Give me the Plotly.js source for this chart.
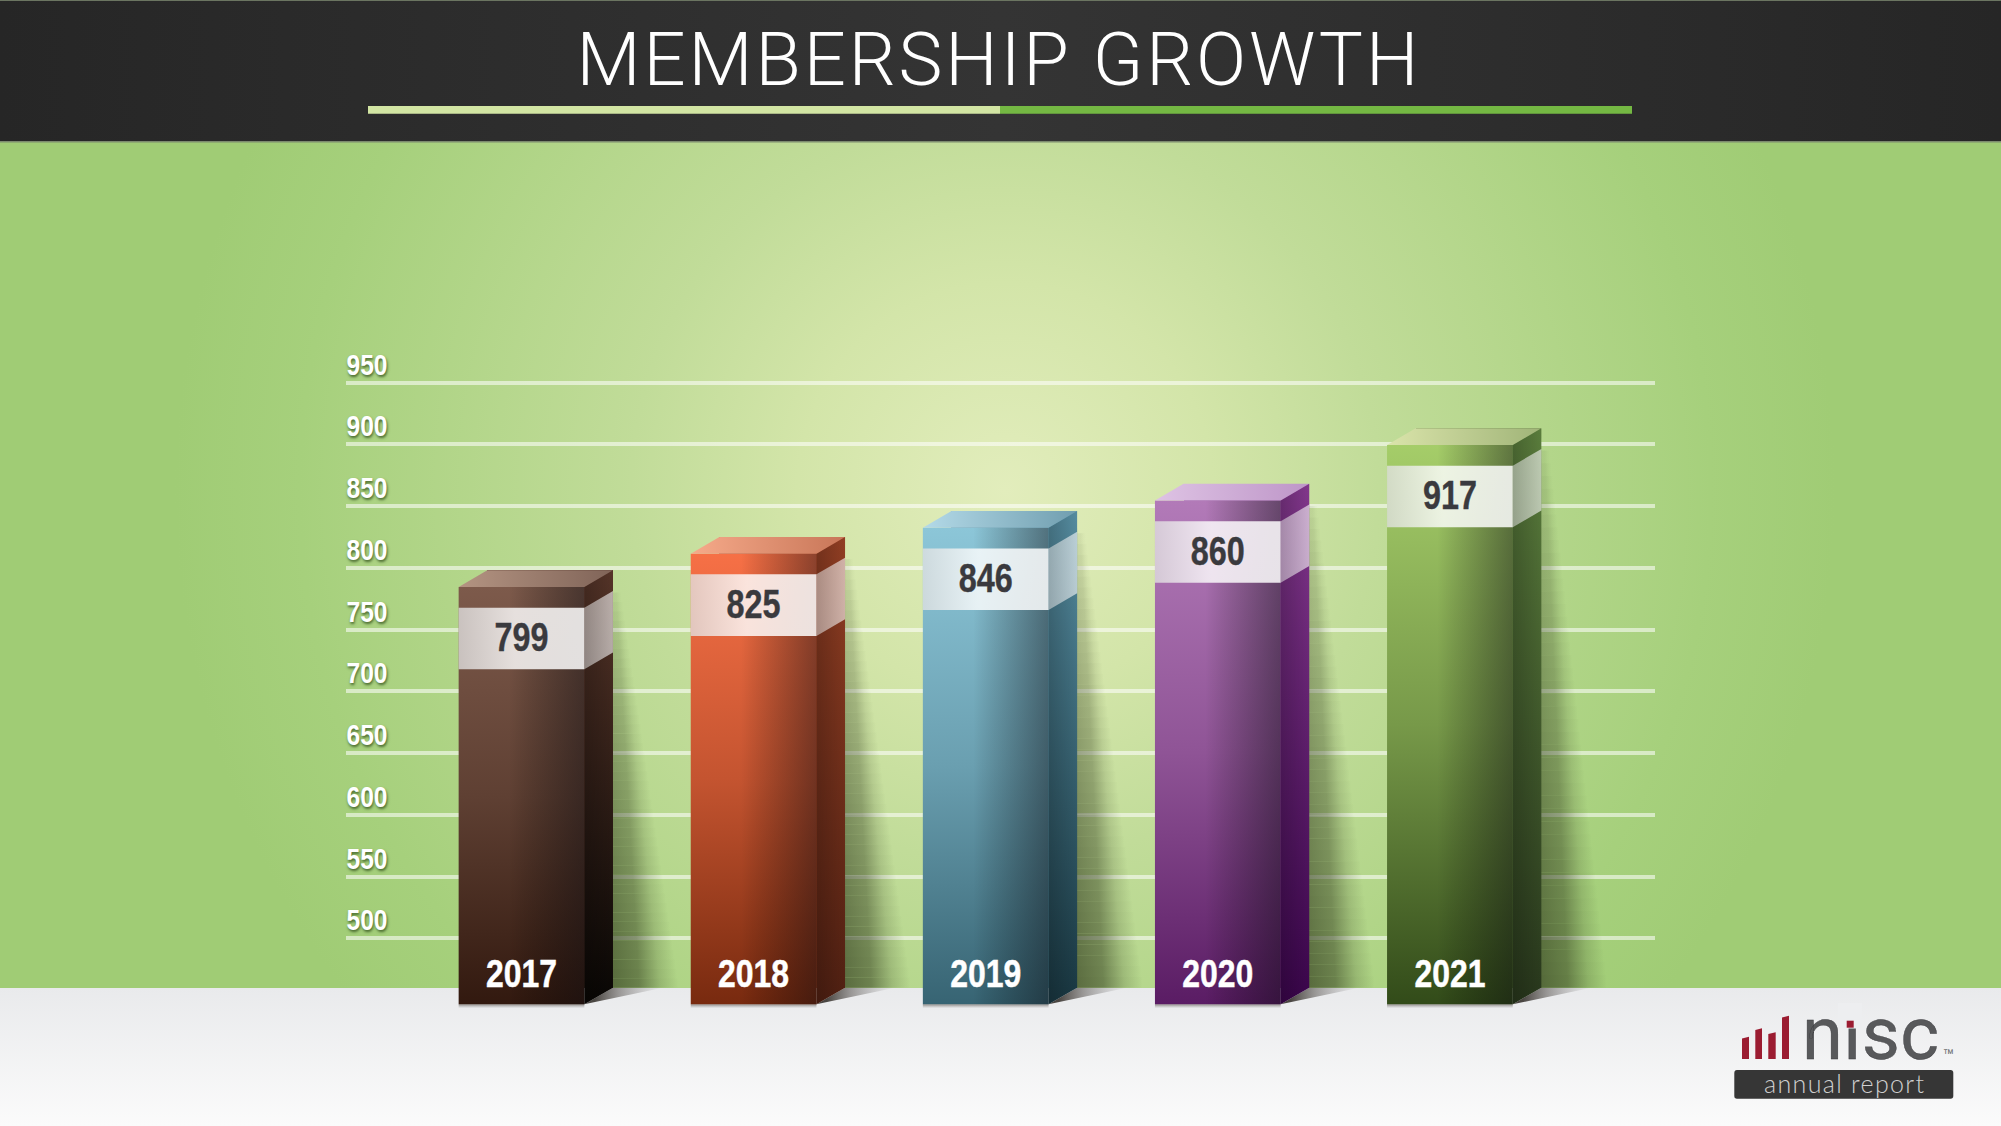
<!DOCTYPE html>
<html>
<head>
<meta charset="utf-8">
<script src="https://cdn.plot.ly/plotly-3.0.1.min.js"></script>
<style>html,body{margin:0;padding:0;background:#fff}#chart{width:2001px;height:1126px}
.gtitle{letter-spacing:2.9px}
.xtick text{stroke:#fff;stroke-width:.5px}
.textpoint text{stroke:#3a3a3e;stroke-width:.4px}
</style>
</head>
<body>
<div id="chart"></div>
<script>
// ---------- data ----------
const years = ['2017','2018','2019','2020','2021'];
const members = [799,825,846,860,917];            // printed on the bars
const drawnHeights = [798,825,846,868,913];       // where each box's rear top edge sits against the gridlines
const gridValues = [500,550,600,650,700,750,800,850,900,950];

const frontTop    = [[125,90,75],[246,112,70],[140,198,216],[178,122,184],[165,205,105]];
const frontBottom = [[50,25,15],[120,42,15],[55,100,115],[90,28,100],[50,75,25]];
const sideTop     = ['rgb(85,52,40)','rgb(145,62,35)','rgb(85,140,160)','rgb(130,55,140)','rgb(90,125,60)'];
const sideBottom  = ['rgb(8,6,4)','rgb(80,32,18)','rgb(25,55,65)','rgb(58,5,75)','rgb(40,55,28)'];
const capLeft     = ['rgb(180,148,130)','rgb(246,170,138)','rgb(180,218,232)','rgb(222,195,228)','rgb(218,228,170)'];
const capRight    = ['rgb(128,100,88)','rgb(200,118,88)','rgb(112,158,175)','rgb(190,150,200)','rgb(160,180,120)'];

// ---------- page geometry ----------
const W = 2001, H = 1126;
const plotL = 346, plotR = 1654.7, plotT = 340, plotB = 1012;
const px0 = 521.5, pxStep = 232.1;       // centre of the first column, column pitch
const grid500 = 938.3, pxPerUnit = 1.235;
const xOf = p => (p - px0) / pxStep;
const yOf = p => 500 + (grid500 - p) / pxPerUnit;
const barW = 125.7 / pxStep, depthX = 28.6 / pxStep, depthY = 16.7 / pxPerUnit;
const frontBase = yOf(1004.3), backBase = yOf(987.7);
const LABEL_FONT = '"Liberation Sans", Arial, sans-serif';
const rgb = c => `rgb(${c.map(Math.round).join(',')})`;
const mix = (a,b,t) => a.map((v,k)=>v+(b[k]-v)*t);

const traces = [];
function poly(xs, ys, gradient) {
  traces.push({type:'scatter', mode:'lines', x:xs.concat(xs[0]), y:ys.concat(ys[0]), fill:'toself',
    fillgradient:gradient, line:{width:0}, hoverinfo:'skip', showlegend:false, xaxis:'x', yaxis:'y'});
}
const hGrad = (a,b,cs) => ({type:'horizontal', start:a, stop:b, colorscale:cs});
const vGrad = (a,b,cs) => ({type:'vertical', start:a, stop:b, colorscale:cs});

// rear rectangle of every box, the true bar of the chart
traces.push({type:'bar', x:years.map((_,i)=>i+depthX), y:drawnHeights.map(v=>v-backBase), base:backBase,
  width:barW, marker:{color:sideTop, line:{width:0}}, hoverinfo:'skip', showlegend:false, xaxis:'x', yaxis:'y'});

drawnHeights.forEach((v,i)=>{
  const L = i - barW/2, R = i + barW/2, Rb = R + depthX;
  const top = v - depthY;
  // wall shadow, wider and darker toward the floor
  const steps = 42, sTop = v - 18;
  for (let k=0;k<steps;k++){
    const t0 = k/steps, t1 = (k+1)/steps;
    const y0 = sTop + (backBase - sTop)*t0, y1 = sTop + (backBase - sTop)*t1;
    const t = (t0+t1)/2;
    const w = (8 + 58*t) / pxStep, a = 0.05 + 0.62*Math.pow(t,0.7);
    poly([Rb-0.01,Rb+w,Rb+w,Rb-0.01],[y0,y0,y1,y1],
      hGrad(Rb,Rb+w,[[0,`rgba(45,55,25,${a})`],[0.4,`rgba(45,55,25,${a*0.8})`],[0.72,`rgba(45,55,25,${a*0.28})`],[1,'rgba(45,55,25,0)']]));
  }
  // floor shadow
  poly([R,Rb,Rb+50/pxStep],[frontBase,backBase,backBase],
    hGrad(R+10/pxStep,Rb+50/pxStep,[[0,'rgba(45,40,35,0.85)'],[0.35,'rgba(70,65,60,0.5)'],[1,'rgba(120,120,120,0)']]));
  poly([L,R,R,L],[frontBase,frontBase,frontBase-4/pxPerUnit,frontBase-4/pxPerUnit],
    vGrad(frontBase,frontBase-4/pxPerUnit,[[0,'rgba(70,60,50,0.55)'],[1,'rgba(120,120,120,0)']]));

  // front face: vertical colour ramp plus a darkening toward the right edge
  poly([L,R,R,L],[top,top,frontBase,frontBase],
    vGrad(top,frontBase,[[0,rgb(frontTop[i])],[0.5,rgb(mix(frontTop[i],frontBottom[i],0.4))],[1,rgb(frontBottom[i])]]));
  poly([L,R,R,L],[top,top,frontBase,frontBase],
    hGrad(L,R,[[0,'rgba(0,0,0,0)'],[0.4,'rgba(0,0,0,0)'],[1,'rgba(10,10,15,0.45)']]));
  // side face, darker along the shared edge
  poly([R,Rb,Rb,R],[top,v,backBase,frontBase], vGrad(v,frontBase,[[0,sideTop[i]],[1,sideBottom[i]]]));
  poly([R,Rb,Rb,R],[top,v,backBase,frontBase], hGrad(R,Rb,[[0,'rgba(0,0,0,0.2)'],[1,'rgba(0,0,0,0)']]));
  // cap
  poly([L,L+depthX,Rb,R],[top,v,v,top], hGrad(L,Rb,[[0,capLeft[i]],[1,capRight[i]]]));
  // band carrying the number
  const bT = top - 20.7/pxPerUnit, bB = top - 82.3/pxPerUnit;
  poly([L,R,R,L],[bT,bT,bB,bB],
    hGrad(L,R,[[0,'rgba(225,225,225,0.78)'],[0.45,'rgba(255,255,255,0.82)'],[1,'rgba(255,255,255,0.85)']]));
  poly([R,Rb,Rb,R],[bT,bT+depthY,bB+depthY,bB],
    hGrad(R,Rb,[[0,'rgba(225,225,225,0.52)'],[1,'rgba(250,250,250,0.62)']]));
});

// numbers on the bands
traces.push({type:'scatter', mode:'text', x:years.map((_,i)=>i),
  y:drawnHeights.map(v=>v-depthY-54/pxPerUnit), text:members.map(String), textposition:'middle center',
  textfont:{family:LABEL_FONT, size:40, color:'#3a3a3e', weight:700}, hoverinfo:'skip', showlegend:false, xaxis:'x', yaxis:'y'});

// logo wordmark, on a hidden page-sized pair of axes
traces.push({type:'scatter', mode:'text', x:[1870.5], y:[1040], text:['nisc'], textposition:'middle center',
  textfont:{family:'Roboto, sans-serif', size:74, color:'#58595b', weight:400}, hoverinfo:'skip', showlegend:false, xaxis:'x2', yaxis:'y2'});

const pageBg = `<svg xmlns="http://www.w3.org/2000/svg" width="${W}" height="${H}" viewBox="0 0 ${W} ${H}">
<defs>
<radialGradient id="g" gradientUnits="userSpaceOnUse" cx="1005" cy="490" r="830">
<stop offset="0" stop-color="#e2edbc"/><stop offset="0.25" stop-color="#d3e5a9"/><stop offset="0.45" stop-color="#c1dc99"/><stop offset="0.85" stop-color="#a6d07c"/><stop offset="1" stop-color="#a0cc75"/>
</radialGradient>
<linearGradient id="f" x1="0" y1="0" x2="0" y2="1"><stop offset="0" stop-color="#e9eaec"/><stop offset="1" stop-color="#fbfbfb"/></linearGradient>
<linearGradient id="h" x1="0" y1="0" x2="1" y2="0"><stop offset="0" stop-color="#262626"/><stop offset="0.5" stop-color="#343434"/><stop offset="1" stop-color="#262626"/></linearGradient>
</defs>
<rect x="0" y="142" width="${W}" height="${988-142}" fill="url(#g)"/>
<rect x="0" y="988" width="${W}" height="${H-988}" fill="url(#f)"/>
<rect x="0" y="0" width="${W}" height="142" fill="url(#h)"/>
<rect x="0" y="0" width="${W}" height="1" fill="#6b7561"/>
<rect x="0" y="141" width="${W}" height="1.5" fill="#7d8b6f"/>
</svg>`;

const rect = (x0,y0,x1,y1,fill) => ({type:'rect', xref:'x2', yref:'y2', x0, y0, x1, y1, fillcolor:fill, line:{width:0}, layer:'above'});
const path = (d,fill) => ({type:'path', xref:'x2', yref:'y2', path:d, fillcolor:fill, line:{width:0}, layer:'above'});
const red = '#9b1c31';
const shapes = [
  rect(368,106,1000,113.7,'#d2e5a3'),
  rect(1000,106,1632,113.7,'#74b843'),
  path('M1742,1038.5 L1749,1036.7 L1749,1059 L1742,1059 Z',red),
  path('M1755.3,1030 L1762,1028.3 L1762,1059 L1755.3,1059 Z',red),
  path('M1768.3,1034 L1775.7,1032.3 L1775.7,1059 L1768.3,1059 Z',red),
  path('M1782,1017.5 L1789,1015.7 L1789,1059 L1782,1059 Z',red),
  rect(1838,1003,1862,1028.5,'#edeef0'),
  rect(1846.7,1020.7,1853.7,1027.7,red),
  path('M1737,1070 L1950.5,1070 Q1953.3,1070 1953.3,1073 L1953.3,1096 Q1953.3,1098.7 1950.5,1098.7 L1737,1098.7 Q1734.3,1098.7 1734.3,1096 L1734.3,1073 Q1734.3,1070 1737,1070 Z','#363636')
];

const tickAnnotations = gridValues.map(v=>({xref:'x2', yref:'y', x:plotL+20.5, y:v, yshift:18.5, text:String(v), showarrow:false,
  xanchor:'center', yanchor:'middle',
  font:{family:LABEL_FONT, size:30, color:'#ffffff', weight:700, shadow:'1px 2px 3px rgba(40,70,20,0.75)'}}));

const layout = {
  width:W, height:H, margin:{l:0,r:0,t:0,b:0,pad:0}, showlegend:false, bargap:0,
  paper_bgcolor:'rgba(0,0,0,0)', plot_bgcolor:'rgba(0,0,0,0)',
  title:{text:'MEMBERSHIP GROWTH', x:0.4992, xanchor:'center', y:1-59/H, yanchor:'middle',
         font:{family:'Roboto, sans-serif', size:74, color:'#ffffff', weight:300}},
  xaxis:{domain:[plotL/W, plotR/W], range:[xOf(plotL), xOf(plotR)], tickvals:years.map((_,i)=>i), ticktext:years,
         ticklabelposition:'inside', ticklen:0, showgrid:false, zeroline:false, showline:false, ticklabelstandoff:14,
         tickfont:{family:LABEL_FONT, size:39, color:'#ffffff', weight:700}, fixedrange:true},
  yaxis:{domain:[1-plotB/H, 1-plotT/H], range:[yOf(plotB), yOf(plotT)], tickvals:gridValues, showticklabels:false,
         ticklen:0, showgrid:true, gridcolor:'rgba(255,255,255,0.56)', gridwidth:4,
         zeroline:false, showline:false, fixedrange:true},
  xaxis2:{domain:[0,1], range:[0,W], visible:false, fixedrange:true, anchor:'y2'},
  yaxis2:{domain:[0,1], range:[H,0], visible:false, fixedrange:true, anchor:'x2'},
  images:[{source:'data:image/svg+xml;charset=utf-8,'+encodeURIComponent(pageBg), xref:'paper', yref:'paper', x:0, y:1,
           sizex:1, sizey:1, xanchor:'left', yanchor:'top', sizing:'stretch', layer:'below'}],
  shapes,
  annotations:tickAnnotations.concat([
    {xref:'x2', yref:'y2', x:1844, y:1083, text:'annual report', showarrow:false, xanchor:'center', yanchor:'middle',
     font:{family:'Lato, sans-serif', size:25, color:'#d0d0d0', weight:300}},
    {xref:'x2', yref:'y2', x:1948.5, y:1055, text:'™', showarrow:false, xanchor:'center', yanchor:'middle',
     font:{family:'Roboto, sans-serif', size:18, color:'#6d6e70'}}
  ])
};
// The reference uses a condensed face; narrow the installed bold face to the measured text widths.
function fit(selector, test, width, mode){
  document.querySelectorAll(selector).forEach(t=>{
    if(test.test(t.textContent)){ t.setAttribute('textLength', width); t.setAttribute('lengthAdjust', mode); }
  });
}
Plotly.newPlot('chart', traces, layout, {displayModeBar:false, responsive:false}).then(()=>{
  fit('.xtick text', /^\d{4}$/, 71, 'spacingAndGlyphs');
  fit('.textpoint text', /^\d{3}$/, 54, 'spacingAndGlyphs');
  fit('.annotation-text', /^\d{3}$/, 41, 'spacingAndGlyphs');
  fit('.annotation-text', /^annual report$/, 160, 'spacing');
  fit('.textpoint text', /^nisc$/, 137, 'spacing');
});
</script>
</body>
</html>
